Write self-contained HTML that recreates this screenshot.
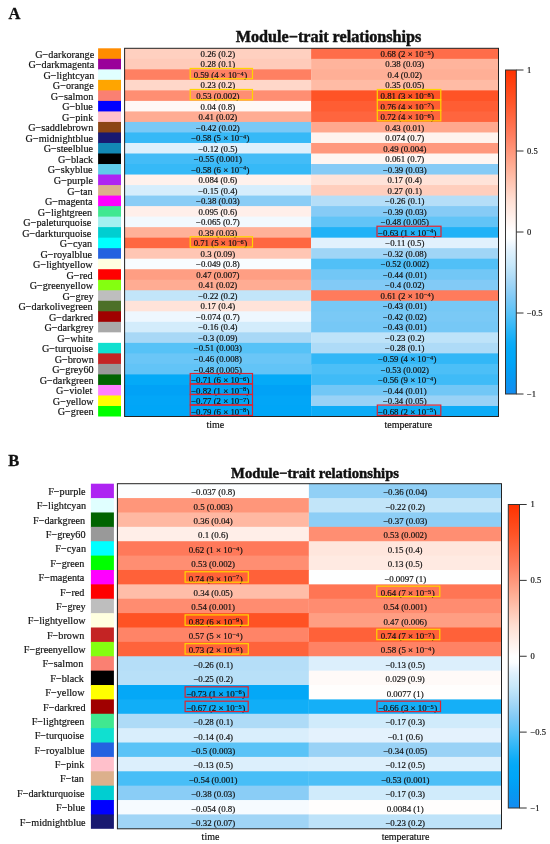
<!DOCTYPE html>
<html><head><meta charset="utf-8"><style>
html,body{margin:0;padding:0;background:#fff;}
svg{display:block;}
text{font-family:"Liberation Serif","Times New Roman",serif;fill:#111;stroke:#111;stroke-width:0.18px;}
</style></head><body>
<svg width="550" height="844" viewBox="0 0 550 844">
<defs><linearGradient id="gA" x1="0" y1="0" x2="0" y2="1"><stop offset="0.000" stop-color="#ff3200"/><stop offset="0.020" stop-color="#ff3908"/><stop offset="0.040" stop-color="#ff4010"/><stop offset="0.060" stop-color="#ff4718"/><stop offset="0.080" stop-color="#ff4e20"/><stop offset="0.100" stop-color="#ff5528"/><stop offset="0.120" stop-color="#ff5d33"/><stop offset="0.140" stop-color="#ff653e"/><stop offset="0.160" stop-color="#ff6d49"/><stop offset="0.180" stop-color="#ff7554"/><stop offset="0.200" stop-color="#ff7d5f"/><stop offset="0.220" stop-color="#ff876a"/><stop offset="0.240" stop-color="#ff9175"/><stop offset="0.260" stop-color="#ff9b80"/><stop offset="0.280" stop-color="#ffa58b"/><stop offset="0.300" stop-color="#ffaf96"/><stop offset="0.320" stop-color="#ffb8a2"/><stop offset="0.340" stop-color="#ffc2ae"/><stop offset="0.360" stop-color="#ffcbba"/><stop offset="0.380" stop-color="#ffd5c6"/><stop offset="0.400" stop-color="#ffded2"/><stop offset="0.420" stop-color="#ffe5db"/><stop offset="0.440" stop-color="#ffebe4"/><stop offset="0.460" stop-color="#fff2ed"/><stop offset="0.480" stop-color="#fff8f6"/><stop offset="0.500" stop-color="#ffffff"/><stop offset="0.520" stop-color="#fcfeff"/><stop offset="0.540" stop-color="#ecf6fe"/><stop offset="0.560" stop-color="#def0fc"/><stop offset="0.580" stop-color="#d3ecfb"/><stop offset="0.600" stop-color="#c8e8fa"/><stop offset="0.620" stop-color="#bbe2f8"/><stop offset="0.640" stop-color="#aedbf7"/><stop offset="0.660" stop-color="#a0d5f6"/><stop offset="0.680" stop-color="#91d0f6"/><stop offset="0.700" stop-color="#82caf6"/><stop offset="0.720" stop-color="#72c7f6"/><stop offset="0.740" stop-color="#62c4f7"/><stop offset="0.760" stop-color="#51c0f7"/><stop offset="0.780" stop-color="#3fbbf7"/><stop offset="0.800" stop-color="#2db6f7"/><stop offset="0.820" stop-color="#1db1f7"/><stop offset="0.840" stop-color="#0dacf7"/><stop offset="0.860" stop-color="#04a9f7"/><stop offset="0.880" stop-color="#02a7f7"/><stop offset="0.900" stop-color="#00a5f7"/><stop offset="0.920" stop-color="#02a0f5"/><stop offset="0.940" stop-color="#049bf3"/><stop offset="0.960" stop-color="#0896f2"/><stop offset="0.980" stop-color="#0e91f1"/><stop offset="1.000" stop-color="#148cf0"/></linearGradient><linearGradient id="gB" x1="0" y1="0" x2="0" y2="1"><stop offset="0.000" stop-color="#ff3200"/><stop offset="0.020" stop-color="#ff3908"/><stop offset="0.040" stop-color="#ff4010"/><stop offset="0.060" stop-color="#ff4718"/><stop offset="0.080" stop-color="#ff4e20"/><stop offset="0.100" stop-color="#ff5528"/><stop offset="0.120" stop-color="#ff5d33"/><stop offset="0.140" stop-color="#ff653e"/><stop offset="0.160" stop-color="#ff6d49"/><stop offset="0.180" stop-color="#ff7554"/><stop offset="0.200" stop-color="#ff7d5f"/><stop offset="0.220" stop-color="#ff876a"/><stop offset="0.240" stop-color="#ff9175"/><stop offset="0.260" stop-color="#ff9b80"/><stop offset="0.280" stop-color="#ffa58b"/><stop offset="0.300" stop-color="#ffaf96"/><stop offset="0.320" stop-color="#ffb8a2"/><stop offset="0.340" stop-color="#ffc2ae"/><stop offset="0.360" stop-color="#ffcbba"/><stop offset="0.380" stop-color="#ffd5c6"/><stop offset="0.400" stop-color="#ffded2"/><stop offset="0.420" stop-color="#ffe5db"/><stop offset="0.440" stop-color="#ffebe4"/><stop offset="0.460" stop-color="#fff2ed"/><stop offset="0.480" stop-color="#fff8f6"/><stop offset="0.500" stop-color="#ffffff"/><stop offset="0.520" stop-color="#fcfeff"/><stop offset="0.540" stop-color="#ecf6fe"/><stop offset="0.560" stop-color="#def0fc"/><stop offset="0.580" stop-color="#d3ecfb"/><stop offset="0.600" stop-color="#c8e8fa"/><stop offset="0.620" stop-color="#bbe2f8"/><stop offset="0.640" stop-color="#aedbf7"/><stop offset="0.660" stop-color="#a0d5f6"/><stop offset="0.680" stop-color="#91d0f6"/><stop offset="0.700" stop-color="#82caf6"/><stop offset="0.720" stop-color="#72c7f6"/><stop offset="0.740" stop-color="#62c4f7"/><stop offset="0.760" stop-color="#51c0f7"/><stop offset="0.780" stop-color="#3fbbf7"/><stop offset="0.800" stop-color="#2db6f7"/><stop offset="0.820" stop-color="#1db1f7"/><stop offset="0.840" stop-color="#0dacf7"/><stop offset="0.860" stop-color="#04a9f7"/><stop offset="0.880" stop-color="#02a7f7"/><stop offset="0.900" stop-color="#00a5f7"/><stop offset="0.920" stop-color="#02a0f5"/><stop offset="0.940" stop-color="#049bf3"/><stop offset="0.960" stop-color="#0896f2"/><stop offset="0.980" stop-color="#0e91f1"/><stop offset="1.000" stop-color="#148cf0"/></linearGradient></defs>
<rect width="550" height="844" fill="#fff"/>
<text x="8.4" y="18.5" font-size="16.5" font-weight="bold" style="stroke-width:0.3px">A</text>
<text x="235.7" y="41.9" font-size="16.2" font-weight="bold" style="stroke-width:0.45px">Module−trait relationships</text>
<rect x="98.1" y="48.30" width="22.90" height="11.52" fill="#ff8c00"/>
<rect x="124.6" y="48.30" width="186.50" height="11.52" fill="#ffd0c0"/>
<rect x="311.1" y="48.30" width="187.40" height="11.52" fill="#ff6d49"/>
<rect x="98.1" y="58.82" width="22.90" height="11.52" fill="#9a009a"/>
<rect x="124.6" y="58.82" width="186.50" height="11.52" fill="#ffcbba"/>
<rect x="311.1" y="58.82" width="187.40" height="11.52" fill="#ffb49c"/>
<rect x="98.1" y="69.34" width="22.90" height="11.52" fill="#e0ffff"/>
<rect x="124.6" y="69.34" width="186.50" height="11.52" fill="#ff8062"/>
<rect x="311.1" y="69.34" width="187.40" height="11.52" fill="#ffaf96"/>
<rect x="98.1" y="79.86" width="22.90" height="11.52" fill="#ffa500"/>
<rect x="124.6" y="79.86" width="186.50" height="11.52" fill="#ffd7c9"/>
<rect x="311.1" y="79.86" width="187.40" height="11.52" fill="#ffbba5"/>
<rect x="98.1" y="90.38" width="22.90" height="11.52" fill="#fa8072"/>
<rect x="124.6" y="90.38" width="186.50" height="11.52" fill="#ff8e72"/>
<rect x="311.1" y="90.38" width="187.40" height="11.52" fill="#ff5326"/>
<rect x="98.1" y="100.90" width="22.90" height="11.52" fill="#0000ff"/>
<rect x="124.6" y="100.90" width="186.50" height="11.52" fill="#fff8f6"/>
<rect x="311.1" y="100.90" width="187.40" height="11.52" fill="#ff5d33"/>
<rect x="98.1" y="111.42" width="22.90" height="11.52" fill="#ffc0cb"/>
<rect x="124.6" y="111.42" width="186.50" height="11.52" fill="#ffac93"/>
<rect x="311.1" y="111.42" width="187.40" height="11.52" fill="#ff653e"/>
<rect x="98.1" y="121.94" width="22.90" height="11.52" fill="#8b4513"/>
<rect x="124.6" y="121.94" width="186.50" height="11.52" fill="#7ac9f6"/>
<rect x="311.1" y="121.94" width="187.40" height="11.52" fill="#ffa88e"/>
<rect x="98.1" y="132.46" width="22.90" height="11.52" fill="#191970"/>
<rect x="124.6" y="132.46" width="186.50" height="11.52" fill="#36b9f7"/>
<rect x="311.1" y="132.46" width="187.40" height="11.52" fill="#fff3ee"/>
<rect x="98.1" y="142.98" width="22.90" height="11.52" fill="#1288b4"/>
<rect x="124.6" y="142.98" width="186.50" height="11.52" fill="#def0fc"/>
<rect x="311.1" y="142.98" width="187.40" height="11.52" fill="#ff987d"/>
<rect x="98.1" y="153.50" width="22.90" height="11.52" fill="#000000"/>
<rect x="124.6" y="153.50" width="186.50" height="11.52" fill="#43bcf7"/>
<rect x="311.1" y="153.50" width="187.40" height="11.52" fill="#fff5f1"/>
<rect x="98.1" y="164.02" width="22.90" height="11.52" fill="#60ccea"/>
<rect x="124.6" y="164.02" width="186.50" height="11.52" fill="#36b9f7"/>
<rect x="311.1" y="164.02" width="187.40" height="11.52" fill="#86cbf6"/>
<rect x="98.1" y="174.54" width="22.90" height="11.52" fill="#ae24f2"/>
<rect x="124.6" y="174.54" width="186.50" height="11.52" fill="#fff1ec"/>
<rect x="311.1" y="174.54" width="187.40" height="11.52" fill="#ffe3d9"/>
<rect x="98.1" y="185.06" width="22.90" height="11.52" fill="#dcb08c"/>
<rect x="124.6" y="185.06" width="186.50" height="11.52" fill="#d6edfc"/>
<rect x="311.1" y="185.06" width="187.40" height="11.52" fill="#ffcebd"/>
<rect x="98.1" y="195.58" width="22.90" height="11.52" fill="#ff00ff"/>
<rect x="124.6" y="195.58" width="186.50" height="11.52" fill="#8acdf6"/>
<rect x="311.1" y="195.58" width="187.40" height="11.52" fill="#b5def8"/>
<rect x="98.1" y="206.10" width="22.90" height="11.52" fill="#40e890"/>
<rect x="124.6" y="206.10" width="186.50" height="11.52" fill="#ffefea"/>
<rect x="311.1" y="206.10" width="187.40" height="11.52" fill="#86cbf6"/>
<rect x="98.1" y="216.62" width="22.90" height="11.52" fill="#a4f0f0"/>
<rect x="124.6" y="216.62" width="186.50" height="11.52" fill="#f2f9fe"/>
<rect x="311.1" y="216.62" width="187.40" height="11.52" fill="#62c4f7"/>
<rect x="98.1" y="227.14" width="22.90" height="11.52" fill="#00ced1"/>
<rect x="124.6" y="227.14" width="186.50" height="11.52" fill="#ffb199"/>
<rect x="311.1" y="227.14" width="187.40" height="11.52" fill="#21b2f7"/>
<rect x="98.1" y="237.66" width="22.90" height="11.52" fill="#00ffff"/>
<rect x="124.6" y="237.66" width="186.50" height="11.52" fill="#ff6741"/>
<rect x="311.1" y="237.66" width="187.40" height="11.52" fill="#e1f1fd"/>
<rect x="98.1" y="248.18" width="22.90" height="11.52" fill="#2462e0"/>
<rect x="124.6" y="248.18" width="186.50" height="11.52" fill="#ffc6b4"/>
<rect x="311.1" y="248.18" width="187.40" height="11.52" fill="#a0d5f6"/>
<rect x="98.1" y="258.70" width="22.90" height="11.52" fill="#ffffe0"/>
<rect x="124.6" y="258.70" width="186.50" height="11.52" fill="#f8fcff"/>
<rect x="311.1" y="258.70" width="187.40" height="11.52" fill="#51c0f7"/>
<rect x="98.1" y="269.22" width="22.90" height="11.52" fill="#ff0000"/>
<rect x="124.6" y="269.22" width="186.50" height="11.52" fill="#ff9e83"/>
<rect x="311.1" y="269.22" width="187.40" height="11.52" fill="#72c7f6"/>
<rect x="98.1" y="279.74" width="22.90" height="11.52" fill="#84ff10"/>
<rect x="124.6" y="279.74" width="186.50" height="11.52" fill="#ffac93"/>
<rect x="311.1" y="279.74" width="187.40" height="11.52" fill="#82caf6"/>
<rect x="98.1" y="290.26" width="22.90" height="11.52" fill="#bebebe"/>
<rect x="124.6" y="290.26" width="186.50" height="11.52" fill="#c2e5f9"/>
<rect x="311.1" y="290.26" width="187.40" height="11.52" fill="#ff7b5c"/>
<rect x="98.1" y="300.78" width="22.90" height="11.52" fill="#4c7028"/>
<rect x="124.6" y="300.78" width="186.50" height="11.52" fill="#ffe3d9"/>
<rect x="311.1" y="300.78" width="187.40" height="11.52" fill="#76c8f6"/>
<rect x="98.1" y="311.30" width="22.90" height="11.52" fill="#a00000"/>
<rect x="124.6" y="311.30" width="186.50" height="11.52" fill="#eef7fe"/>
<rect x="311.1" y="311.30" width="187.40" height="11.52" fill="#7ac9f6"/>
<rect x="98.1" y="321.82" width="22.90" height="11.52" fill="#a9a9a9"/>
<rect x="124.6" y="321.82" width="186.50" height="11.52" fill="#d3ecfb"/>
<rect x="311.1" y="321.82" width="187.40" height="11.52" fill="#76c8f6"/>
<rect x="98.1" y="332.34" width="22.90" height="11.52" fill="#ffffff"/>
<rect x="124.6" y="332.34" width="186.50" height="11.52" fill="#a8d8f6"/>
<rect x="311.1" y="332.34" width="187.40" height="11.52" fill="#bee3f9"/>
<rect x="98.1" y="342.86" width="22.90" height="11.52" fill="#10e0d0"/>
<rect x="124.6" y="342.86" width="186.50" height="11.52" fill="#56c2f7"/>
<rect x="311.1" y="342.86" width="187.40" height="11.52" fill="#aedbf7"/>
<rect x="98.1" y="353.38" width="22.90" height="11.52" fill="#c42424"/>
<rect x="124.6" y="353.38" width="186.50" height="11.52" fill="#6ac6f7"/>
<rect x="311.1" y="353.38" width="187.40" height="11.52" fill="#32b7f7"/>
<rect x="98.1" y="363.90" width="22.90" height="11.52" fill="#999999"/>
<rect x="124.6" y="363.90" width="186.50" height="11.52" fill="#62c4f7"/>
<rect x="311.1" y="363.90" width="187.40" height="11.52" fill="#4cbff7"/>
<rect x="98.1" y="374.42" width="22.90" height="11.52" fill="#006400"/>
<rect x="124.6" y="374.42" width="186.50" height="11.52" fill="#04aaf7"/>
<rect x="311.1" y="374.42" width="187.40" height="11.52" fill="#3fbbf7"/>
<rect x="98.1" y="384.94" width="22.90" height="11.52" fill="#ff80ff"/>
<rect x="124.6" y="384.94" width="186.50" height="11.52" fill="#01a2f6"/>
<rect x="311.1" y="384.94" width="187.40" height="11.52" fill="#72c7f6"/>
<rect x="98.1" y="395.46" width="22.90" height="11.52" fill="#ffff00"/>
<rect x="124.6" y="395.46" width="186.50" height="11.52" fill="#02a6f7"/>
<rect x="311.1" y="395.46" width="187.40" height="11.52" fill="#99d2f6"/>
<rect x="98.1" y="405.98" width="22.90" height="10.52" fill="#00ff00"/>
<rect x="124.6" y="405.98" width="186.50" height="10.52" fill="#00a6f7"/>
<rect x="311.1" y="405.98" width="187.40" height="10.52" fill="#0dacf7"/>
<text x="94.20" y="57.76" font-size="10.2" text-anchor="end">G−darkorange</text>
<text x="217.85" y="56.91" font-size="8.8" text-anchor="middle">0.26 (0.2)</text>
<text x="407.30" y="56.91" font-size="8.8" text-anchor="middle">0.68 (2 × 10<tspan dx="0.3" dy="-2.29" font-size="6.34">−5</tspan><tspan dx="0.4" dy="2.29">)</tspan></text>
<text x="94.20" y="68.28" font-size="10.2" text-anchor="end">G−darkmagenta</text>
<text x="217.85" y="67.43" font-size="8.8" text-anchor="middle">0.28 (0.1)</text>
<text x="404.80" y="67.43" font-size="8.8" text-anchor="middle">0.38 (0.03)</text>
<text x="94.40" y="78.80" font-size="10.2" text-anchor="end">G−lightcyan</text>
<text x="220.35" y="77.95" font-size="8.8" text-anchor="middle">0.59 (4 × 10<tspan dx="0.3" dy="-2.29" font-size="6.34">−4</tspan><tspan dx="0.4" dy="2.29">)</tspan></text>
<text x="404.80" y="77.95" font-size="8.8" text-anchor="middle">0.4 (0.02)</text>
<text x="93.70" y="89.32" font-size="10.2" text-anchor="end">G−orange</text>
<text x="217.85" y="88.47" font-size="8.8" text-anchor="middle">0.23 (0.2)</text>
<text x="404.80" y="88.47" font-size="8.8" text-anchor="middle">0.35 (0.05)</text>
<text x="93.40" y="99.84" font-size="10.2" text-anchor="end">G−salmon</text>
<text x="217.85" y="98.99" font-size="8.8" text-anchor="middle">0.53 (0.002)</text>
<text x="407.30" y="98.99" font-size="8.8" text-anchor="middle">0.81 (3 × 10<tspan dx="0.3" dy="-2.29" font-size="6.34">−8</tspan><tspan dx="0.4" dy="2.29">)</tspan></text>
<text x="92.90" y="110.36" font-size="10.2" text-anchor="end">G−blue</text>
<text x="217.85" y="109.51" font-size="8.8" text-anchor="middle">0.04 (0.8)</text>
<text x="407.30" y="109.51" font-size="8.8" text-anchor="middle">0.76 (4 × 10<tspan dx="0.3" dy="-2.29" font-size="6.34">−7</tspan><tspan dx="0.4" dy="2.29">)</tspan></text>
<text x="93.30" y="120.88" font-size="10.2" text-anchor="end">G−pink</text>
<text x="217.85" y="120.03" font-size="8.8" text-anchor="middle">0.41 (0.02)</text>
<text x="407.30" y="120.03" font-size="8.8" text-anchor="middle">0.72 (4 × 10<tspan dx="0.3" dy="-2.29" font-size="6.34">−6</tspan><tspan dx="0.4" dy="2.29">)</tspan></text>
<text x="93.30" y="131.40" font-size="10.2" text-anchor="end">G−saddlebrown</text>
<text x="217.85" y="130.55" font-size="8.8" text-anchor="middle">−0.42 (0.02)</text>
<text x="404.80" y="130.55" font-size="8.8" text-anchor="middle">0.43 (0.01)</text>
<text x="93.00" y="141.92" font-size="10.2" text-anchor="end">G−midnightblue</text>
<text x="220.35" y="141.07" font-size="8.8" text-anchor="middle">−0.58 (5 × 10<tspan dx="0.3" dy="-2.29" font-size="6.34">−4</tspan><tspan dx="0.4" dy="2.29">)</tspan></text>
<text x="404.80" y="141.07" font-size="8.8" text-anchor="middle">0.074 (0.7)</text>
<text x="93.00" y="152.44" font-size="10.2" text-anchor="end">G−steelblue</text>
<text x="217.85" y="151.59" font-size="8.8" text-anchor="middle">−0.12 (0.5)</text>
<text x="404.80" y="151.59" font-size="8.8" text-anchor="middle">0.49 (0.004)</text>
<text x="93.10" y="162.96" font-size="10.2" text-anchor="end">G−black</text>
<text x="217.85" y="162.11" font-size="8.8" text-anchor="middle">−0.55 (0.001)</text>
<text x="404.80" y="162.11" font-size="8.8" text-anchor="middle">0.061 (0.7)</text>
<text x="92.50" y="173.48" font-size="10.2" text-anchor="end">G−skyblue</text>
<text x="220.35" y="172.63" font-size="8.8" text-anchor="middle">−0.58 (6 × 10<tspan dx="0.3" dy="-2.29" font-size="6.34">−4</tspan><tspan dx="0.4" dy="2.29">)</tspan></text>
<text x="404.80" y="172.63" font-size="8.8" text-anchor="middle">−0.39 (0.03)</text>
<text x="93.00" y="184.00" font-size="10.2" text-anchor="end">G−purple</text>
<text x="217.85" y="183.15" font-size="8.8" text-anchor="middle">0.084 (0.6)</text>
<text x="404.80" y="183.15" font-size="8.8" text-anchor="middle">0.17 (0.4)</text>
<text x="92.70" y="194.52" font-size="10.2" text-anchor="end">G−tan</text>
<text x="217.85" y="193.67" font-size="8.8" text-anchor="middle">−0.15 (0.4)</text>
<text x="404.80" y="193.67" font-size="8.8" text-anchor="middle">0.27 (0.1)</text>
<text x="92.50" y="205.04" font-size="10.2" text-anchor="end">G−magenta</text>
<text x="217.85" y="204.19" font-size="8.8" text-anchor="middle">−0.38 (0.03)</text>
<text x="404.80" y="204.19" font-size="8.8" text-anchor="middle">−0.26 (0.1)</text>
<text x="92.20" y="215.56" font-size="10.2" text-anchor="end">G−lightgreen</text>
<text x="217.85" y="214.71" font-size="8.8" text-anchor="middle">0.095 (0.6)</text>
<text x="404.80" y="214.71" font-size="8.8" text-anchor="middle">−0.39 (0.03)</text>
<text x="91.30" y="226.08" font-size="10.2" text-anchor="end">G−paleturquoise</text>
<text x="217.85" y="225.23" font-size="8.8" text-anchor="middle">−0.065 (0.7)</text>
<text x="404.80" y="225.23" font-size="8.8" text-anchor="middle">−0.48 (0.005)</text>
<text x="91.30" y="236.60" font-size="10.2" text-anchor="end">G−darkturquoise</text>
<text x="217.85" y="235.75" font-size="8.8" text-anchor="middle">0.39 (0.03)</text>
<text x="407.30" y="235.75" font-size="8.8" text-anchor="middle">−0.63 (1 × 10<tspan dx="0.3" dy="-2.29" font-size="6.34">−4</tspan><tspan dx="0.4" dy="2.29">)</tspan></text>
<text x="92.20" y="247.12" font-size="10.2" text-anchor="end">G−cyan</text>
<text x="220.35" y="246.27" font-size="8.8" text-anchor="middle">0.71 (5 × 10<tspan dx="0.3" dy="-2.29" font-size="6.34">−6</tspan><tspan dx="0.4" dy="2.29">)</tspan></text>
<text x="404.80" y="246.27" font-size="8.8" text-anchor="middle">−0.11 (0.5)</text>
<text x="92.00" y="257.64" font-size="10.2" text-anchor="end">G−royalblue</text>
<text x="217.85" y="256.79" font-size="8.8" text-anchor="middle">0.3 (0.09)</text>
<text x="404.80" y="256.79" font-size="8.8" text-anchor="middle">−0.32 (0.08)</text>
<text x="92.60" y="268.16" font-size="10.2" text-anchor="end">G−lightyellow</text>
<text x="217.85" y="267.31" font-size="8.8" text-anchor="middle">−0.049 (0.8)</text>
<text x="404.80" y="267.31" font-size="8.8" text-anchor="middle">−0.52 (0.002)</text>
<text x="92.60" y="278.68" font-size="10.2" text-anchor="end">G−red</text>
<text x="217.85" y="277.83" font-size="8.8" text-anchor="middle">0.47 (0.007)</text>
<text x="404.80" y="277.83" font-size="8.8" text-anchor="middle">−0.44 (0.01)</text>
<text x="93.10" y="289.20" font-size="10.2" text-anchor="end">G−greenyellow</text>
<text x="217.85" y="288.35" font-size="8.8" text-anchor="middle">0.41 (0.02)</text>
<text x="404.80" y="288.35" font-size="8.8" text-anchor="middle">−0.4 (0.02)</text>
<text x="93.70" y="299.72" font-size="10.2" text-anchor="end">G−grey</text>
<text x="217.85" y="298.87" font-size="8.8" text-anchor="middle">−0.22 (0.2)</text>
<text x="407.30" y="298.87" font-size="8.8" text-anchor="middle">0.61 (2 × 10<tspan dx="0.3" dy="-2.29" font-size="6.34">−4</tspan><tspan dx="0.4" dy="2.29">)</tspan></text>
<text x="92.70" y="310.24" font-size="10.2" text-anchor="end">G−darkolivegreen</text>
<text x="217.85" y="309.39" font-size="8.8" text-anchor="middle">0.17 (0.4)</text>
<text x="404.80" y="309.39" font-size="8.8" text-anchor="middle">−0.43 (0.01)</text>
<text x="93.10" y="320.76" font-size="10.2" text-anchor="end">G−darkred</text>
<text x="217.85" y="319.91" font-size="8.8" text-anchor="middle">−0.074 (0.7)</text>
<text x="404.80" y="319.91" font-size="8.8" text-anchor="middle">−0.42 (0.02)</text>
<text x="93.70" y="331.28" font-size="10.2" text-anchor="end">G−darkgrey</text>
<text x="217.85" y="330.43" font-size="8.8" text-anchor="middle">−0.16 (0.4)</text>
<text x="404.80" y="330.43" font-size="8.8" text-anchor="middle">−0.43 (0.01)</text>
<text x="93.00" y="341.80" font-size="10.2" text-anchor="end">G−white</text>
<text x="217.85" y="340.95" font-size="8.8" text-anchor="middle">−0.3 (0.09)</text>
<text x="404.80" y="340.95" font-size="8.8" text-anchor="middle">−0.23 (0.2)</text>
<text x="93.00" y="352.32" font-size="10.2" text-anchor="end">G−turquoise</text>
<text x="217.85" y="351.47" font-size="8.8" text-anchor="middle">−0.51 (0.003)</text>
<text x="404.80" y="351.47" font-size="8.8" text-anchor="middle">−0.28 (0.1)</text>
<text x="93.80" y="362.84" font-size="10.2" text-anchor="end">G−brown</text>
<text x="217.85" y="361.99" font-size="8.8" text-anchor="middle">−0.46 (0.008)</text>
<text x="407.30" y="361.99" font-size="8.8" text-anchor="middle">−0.59 (4 × 10<tspan dx="0.3" dy="-2.29" font-size="6.34">−4</tspan><tspan dx="0.4" dy="2.29">)</tspan></text>
<text x="93.60" y="373.36" font-size="10.2" text-anchor="end">G−grey60</text>
<text x="217.85" y="372.51" font-size="8.8" text-anchor="middle">−0.48 (0.005)</text>
<text x="404.80" y="372.51" font-size="8.8" text-anchor="middle">−0.53 (0.002)</text>
<text x="93.50" y="383.88" font-size="10.2" text-anchor="end">G−darkgreen</text>
<text x="220.35" y="383.03" font-size="8.8" text-anchor="middle">−0.71 (6 × 10<tspan dx="0.3" dy="-2.29" font-size="6.34">−6</tspan><tspan dx="0.4" dy="2.29">)</tspan></text>
<text x="407.30" y="383.03" font-size="8.8" text-anchor="middle">−0.56 (9 × 10<tspan dx="0.3" dy="-2.29" font-size="6.34">−4</tspan><tspan dx="0.4" dy="2.29">)</tspan></text>
<text x="92.40" y="394.40" font-size="10.2" text-anchor="end">G−violet</text>
<text x="220.35" y="393.55" font-size="8.8" text-anchor="middle">−0.82 (1 × 10<tspan dx="0.3" dy="-2.29" font-size="6.34">−8</tspan><tspan dx="0.4" dy="2.29">)</tspan></text>
<text x="404.80" y="393.55" font-size="8.8" text-anchor="middle">−0.44 (0.01)</text>
<text x="93.70" y="404.92" font-size="10.2" text-anchor="end">G−yellow</text>
<text x="220.35" y="404.07" font-size="8.8" text-anchor="middle">−0.77 (2 × 10<tspan dx="0.3" dy="-2.29" font-size="6.34">−7</tspan><tspan dx="0.4" dy="2.29">)</tspan></text>
<text x="404.80" y="404.07" font-size="8.8" text-anchor="middle">−0.34 (0.05)</text>
<text x="93.50" y="415.44" font-size="10.2" text-anchor="end">G−green</text>
<text x="220.35" y="414.59" font-size="8.8" text-anchor="middle">−0.79 (6 × 10<tspan dx="0.3" dy="-2.29" font-size="6.34">−8</tspan><tspan dx="0.4" dy="2.29">)</tspan></text>
<text x="407.30" y="414.59" font-size="8.8" text-anchor="middle">−0.68 (2 × 10<tspan dx="0.3" dy="-2.29" font-size="6.34">−5</tspan><tspan dx="0.4" dy="2.29">)</tspan></text>
<rect x="190.2" y="68.44" width="62.30" height="10.30" fill="none" stroke="#FFD400" stroke-width="1.2"/>
<rect x="190.2" y="89.48" width="62.30" height="10.30" fill="none" stroke="#FFD400" stroke-width="1.2"/>
<rect x="190.2" y="236.76" width="62.30" height="10.30" fill="none" stroke="#FFD400" stroke-width="1.2"/>
<rect x="377.3" y="89.48" width="63.50" height="10.30" fill="none" stroke="#FFD400" stroke-width="1.2"/>
<rect x="377.3" y="100.00" width="63.50" height="10.30" fill="none" stroke="#FFD400" stroke-width="1.2"/>
<rect x="377.3" y="110.52" width="63.50" height="10.30" fill="none" stroke="#FFD400" stroke-width="1.2"/>
<rect x="377" y="226.24" width="64.00" height="10.30" fill="none" stroke="#E02430" stroke-width="1.2"/>
<rect x="377.3" y="405.08" width="63.50" height="10.30" fill="none" stroke="#E02430" stroke-width="1.2"/>
<rect x="190.2" y="373.52" width="62.30" height="10.30" fill="none" stroke="#E02430" stroke-width="1.2"/>
<rect x="190.2" y="384.04" width="62.30" height="10.30" fill="none" stroke="#E02430" stroke-width="1.2"/>
<rect x="190.2" y="394.56" width="62.30" height="10.30" fill="none" stroke="#E02430" stroke-width="1.2"/>
<rect x="190.2" y="405.08" width="62.30" height="10.30" fill="none" stroke="#E02430" stroke-width="1.2"/>
<rect x="124.6" y="48.3" width="373.9" height="368.2" fill="none" stroke="#222" stroke-width="1"/>
<text x="215.4" y="427.7" font-size="10.0" text-anchor="middle">time</text>
<text x="408.3" y="427.7" font-size="10.0" text-anchor="middle">temperature</text>
<rect x="505.5" y="70" width="10.799999999999955" height="324" fill="url(#gA)" stroke="#333" stroke-width="1"/>
<line x1="516.3" y1="70.00" x2="523.5" y2="70.00" stroke="#333" stroke-width="1"/>
<text x="527" y="72.81" font-size="8.5">1</text>
<line x1="516.3" y1="151.00" x2="523.5" y2="151.00" stroke="#333" stroke-width="1"/>
<text x="527" y="153.81" font-size="8.5">0.5</text>
<line x1="516.3" y1="232.00" x2="523.5" y2="232.00" stroke="#333" stroke-width="1"/>
<text x="527" y="234.81" font-size="8.5">0</text>
<line x1="516.3" y1="313.00" x2="523.5" y2="313.00" stroke="#333" stroke-width="1"/>
<text x="527" y="315.81" font-size="8.5">−0.5</text>
<line x1="516.3" y1="394.00" x2="523.5" y2="394.00" stroke="#333" stroke-width="1"/>
<text x="527" y="396.81" font-size="8.5">−1</text>
<text x="8.2" y="466.3" font-size="16.5" font-weight="bold" style="stroke-width:0.3px">B</text>
<text x="231.1" y="478.2" font-size="14.65" font-weight="bold" style="stroke-width:0.45px">Module−trait relationships</text>
<rect x="90.9" y="483.70" width="23.00" height="15.38" fill="#ae24f2"/>
<rect x="117.4" y="483.70" width="191.50" height="15.38" fill="#fcfeff"/>
<rect x="308.9" y="483.70" width="192.60" height="15.38" fill="#91d0f6"/>
<rect x="90.9" y="498.08" width="23.00" height="15.38" fill="#e0ffff"/>
<rect x="117.4" y="498.08" width="191.50" height="15.38" fill="#ff967a"/>
<rect x="308.9" y="498.08" width="192.60" height="15.38" fill="#c2e5f9"/>
<rect x="90.9" y="512.46" width="23.00" height="15.38" fill="#006400"/>
<rect x="117.4" y="512.46" width="191.50" height="15.38" fill="#ffb8a2"/>
<rect x="308.9" y="512.46" width="192.60" height="15.38" fill="#8dcef6"/>
<rect x="90.9" y="526.84" width="23.00" height="15.38" fill="#999999"/>
<rect x="117.4" y="526.84" width="191.50" height="15.38" fill="#ffeee8"/>
<rect x="308.9" y="526.84" width="192.60" height="15.38" fill="#ff8e72"/>
<rect x="90.9" y="541.22" width="23.00" height="15.38" fill="#00ffff"/>
<rect x="117.4" y="541.22" width="191.50" height="15.38" fill="#ff795a"/>
<rect x="308.9" y="541.22" width="192.60" height="15.38" fill="#ffe6dd"/>
<rect x="90.9" y="555.60" width="23.00" height="15.38" fill="#00ff00"/>
<rect x="117.4" y="555.60" width="191.50" height="15.38" fill="#ff8e72"/>
<rect x="308.9" y="555.60" width="192.60" height="15.38" fill="#ffeae2"/>
<rect x="90.9" y="569.98" width="23.00" height="15.38" fill="#ff00ff"/>
<rect x="117.4" y="569.98" width="191.50" height="15.38" fill="#ff6139"/>
<rect x="308.9" y="569.98" width="192.60" height="15.38" fill="#feffff"/>
<rect x="90.9" y="584.35" width="23.00" height="15.38" fill="#ff0000"/>
<rect x="117.4" y="584.35" width="191.50" height="15.38" fill="#ffbda8"/>
<rect x="308.9" y="584.35" width="192.60" height="15.38" fill="#ff7554"/>
<rect x="90.9" y="598.73" width="23.00" height="15.38" fill="#bebebe"/>
<rect x="117.4" y="598.73" width="191.50" height="15.38" fill="#ff8c70"/>
<rect x="308.9" y="598.73" width="192.60" height="15.38" fill="#ff8c70"/>
<rect x="90.9" y="613.11" width="23.00" height="15.38" fill="#ffffe0"/>
<rect x="117.4" y="613.11" width="191.50" height="15.38" fill="#ff5224"/>
<rect x="308.9" y="613.11" width="192.60" height="15.38" fill="#ff9e83"/>
<rect x="90.9" y="627.49" width="23.00" height="15.38" fill="#c42424"/>
<rect x="117.4" y="627.49" width="191.50" height="15.38" fill="#ff8467"/>
<rect x="308.9" y="627.49" width="192.60" height="15.38" fill="#ff6139"/>
<rect x="90.9" y="641.87" width="23.00" height="15.38" fill="#84ff10"/>
<rect x="117.4" y="641.87" width="191.50" height="15.38" fill="#ff633b"/>
<rect x="308.9" y="641.87" width="192.60" height="15.38" fill="#ff8264"/>
<rect x="90.9" y="656.25" width="23.00" height="15.38" fill="#fa8072"/>
<rect x="117.4" y="656.25" width="191.50" height="15.38" fill="#b5def8"/>
<rect x="308.9" y="656.25" width="192.60" height="15.38" fill="#dceffc"/>
<rect x="90.9" y="670.63" width="23.00" height="15.38" fill="#000000"/>
<rect x="117.4" y="670.63" width="191.50" height="15.38" fill="#b8e0f8"/>
<rect x="308.9" y="670.63" width="192.60" height="15.38" fill="#fffaf8"/>
<rect x="90.9" y="685.01" width="23.00" height="15.38" fill="#ffff00"/>
<rect x="117.4" y="685.01" width="191.50" height="15.38" fill="#04a8f7"/>
<rect x="308.9" y="685.01" width="192.60" height="15.38" fill="#fffefd"/>
<rect x="90.9" y="699.39" width="23.00" height="15.38" fill="#a00000"/>
<rect x="117.4" y="699.39" width="191.50" height="15.38" fill="#11aef7"/>
<rect x="308.9" y="699.39" width="192.60" height="15.38" fill="#15aff7"/>
<rect x="90.9" y="713.77" width="23.00" height="15.38" fill="#40e890"/>
<rect x="117.4" y="713.77" width="191.50" height="15.38" fill="#aedbf7"/>
<rect x="308.9" y="713.77" width="192.60" height="15.38" fill="#d0ebfb"/>
<rect x="90.9" y="728.15" width="23.00" height="15.38" fill="#10e0d0"/>
<rect x="117.4" y="728.15" width="191.50" height="15.38" fill="#d9eefc"/>
<rect x="308.9" y="728.15" width="192.60" height="15.38" fill="#e4f2fd"/>
<rect x="90.9" y="742.52" width="23.00" height="15.38" fill="#2462e0"/>
<rect x="117.4" y="742.52" width="191.50" height="15.38" fill="#5ac3f7"/>
<rect x="308.9" y="742.52" width="192.60" height="15.38" fill="#99d2f6"/>
<rect x="90.9" y="756.90" width="23.00" height="15.38" fill="#ffc0cb"/>
<rect x="117.4" y="756.90" width="191.50" height="15.38" fill="#dceffc"/>
<rect x="308.9" y="756.90" width="192.60" height="15.38" fill="#def0fc"/>
<rect x="90.9" y="771.28" width="23.00" height="15.38" fill="#dcb08c"/>
<rect x="117.4" y="771.28" width="191.50" height="15.38" fill="#48bef7"/>
<rect x="308.9" y="771.28" width="192.60" height="15.38" fill="#4cbff7"/>
<rect x="90.9" y="785.66" width="23.00" height="15.38" fill="#00ced1"/>
<rect x="117.4" y="785.66" width="191.50" height="15.38" fill="#8acdf6"/>
<rect x="308.9" y="785.66" width="192.60" height="15.38" fill="#d0ebfb"/>
<rect x="90.9" y="800.04" width="23.00" height="15.38" fill="#0000ff"/>
<rect x="117.4" y="800.04" width="191.50" height="15.38" fill="#f6fbff"/>
<rect x="308.9" y="800.04" width="192.60" height="15.38" fill="#fffefd"/>
<rect x="90.9" y="814.42" width="23.00" height="14.38" fill="#191970"/>
<rect x="117.4" y="814.42" width="191.50" height="14.38" fill="#a0d5f6"/>
<rect x="308.9" y="814.42" width="192.60" height="14.38" fill="#bee3f9"/>
<text x="85.60" y="494.89" font-size="10.2" text-anchor="end">F−purple</text>
<text x="213.15" y="495.29" font-size="8.9" text-anchor="middle">−0.037 (0.8)</text>
<text x="405.20" y="495.29" font-size="8.9" text-anchor="middle">−0.36 (0.04)</text>
<text x="86.00" y="509.27" font-size="10.2" text-anchor="end">F−lightcyan</text>
<text x="213.15" y="509.67" font-size="8.9" text-anchor="middle">0.5 (0.003)</text>
<text x="405.20" y="509.67" font-size="8.9" text-anchor="middle">−0.22 (0.2)</text>
<text x="85.20" y="523.65" font-size="10.2" text-anchor="end">F−darkgreen</text>
<text x="213.15" y="524.05" font-size="8.9" text-anchor="middle">0.36 (0.04)</text>
<text x="405.20" y="524.05" font-size="8.9" text-anchor="middle">−0.37 (0.03)</text>
<text x="85.50" y="538.03" font-size="10.2" text-anchor="end">F−grey60</text>
<text x="213.15" y="538.43" font-size="8.9" text-anchor="middle">0.1 (0.6)</text>
<text x="405.20" y="538.43" font-size="8.9" text-anchor="middle">0.53 (0.002)</text>
<text x="86.00" y="552.41" font-size="10.2" text-anchor="end">F−cyan</text>
<text x="215.65" y="552.81" font-size="8.9" text-anchor="middle">0.62 (1 × 10<tspan dx="0.3" dy="-2.31" font-size="6.41">−4</tspan><tspan dx="0.4" dy="2.31">)</tspan></text>
<text x="405.20" y="552.81" font-size="8.9" text-anchor="middle">0.15 (0.4)</text>
<text x="84.40" y="566.79" font-size="10.2" text-anchor="end">F−green</text>
<text x="213.15" y="567.19" font-size="8.9" text-anchor="middle">0.53 (0.002)</text>
<text x="405.20" y="567.19" font-size="8.9" text-anchor="middle">0.13 (0.5)</text>
<text x="84.40" y="581.16" font-size="10.2" text-anchor="end">F−magenta</text>
<text x="215.65" y="581.56" font-size="8.9" text-anchor="middle">0.74 (9 × 10<tspan dx="0.3" dy="-2.31" font-size="6.41">−7</tspan><tspan dx="0.4" dy="2.31">)</tspan></text>
<text x="405.20" y="581.56" font-size="8.9" text-anchor="middle">−0.0097 (1)</text>
<text x="84.40" y="595.54" font-size="10.2" text-anchor="end">F−red</text>
<text x="213.15" y="595.94" font-size="8.9" text-anchor="middle">0.34 (0.05)</text>
<text x="407.70" y="595.94" font-size="8.9" text-anchor="middle">0.64 (7 × 10<tspan dx="0.3" dy="-2.31" font-size="6.41">−5</tspan><tspan dx="0.4" dy="2.31">)</tspan></text>
<text x="85.60" y="609.92" font-size="10.2" text-anchor="end">F−grey</text>
<text x="213.15" y="610.32" font-size="8.9" text-anchor="middle">0.54 (0.001)</text>
<text x="405.20" y="610.32" font-size="8.9" text-anchor="middle">0.54 (0.001)</text>
<text x="85.60" y="624.30" font-size="10.2" text-anchor="end">F−lightyellow</text>
<text x="215.65" y="624.70" font-size="8.9" text-anchor="middle">0.82 (6 × 10<tspan dx="0.3" dy="-2.31" font-size="6.41">−9</tspan><tspan dx="0.4" dy="2.31">)</tspan></text>
<text x="405.20" y="624.70" font-size="8.9" text-anchor="middle">0.47 (0.006)</text>
<text x="84.40" y="638.68" font-size="10.2" text-anchor="end">F−brown</text>
<text x="215.65" y="639.08" font-size="8.9" text-anchor="middle">0.57 (5 × 10<tspan dx="0.3" dy="-2.31" font-size="6.41">−4</tspan><tspan dx="0.4" dy="2.31">)</tspan></text>
<text x="407.70" y="639.08" font-size="8.9" text-anchor="middle">0.74 (7 × 10<tspan dx="0.3" dy="-2.31" font-size="6.41">−7</tspan><tspan dx="0.4" dy="2.31">)</tspan></text>
<text x="85.60" y="653.06" font-size="10.2" text-anchor="end">F−greenyellow</text>
<text x="215.65" y="653.46" font-size="8.9" text-anchor="middle">0.73 (2 × 10<tspan dx="0.3" dy="-2.31" font-size="6.41">−6</tspan><tspan dx="0.4" dy="2.31">)</tspan></text>
<text x="407.70" y="653.46" font-size="8.9" text-anchor="middle">0.58 (5 × 10<tspan dx="0.3" dy="-2.31" font-size="6.41">−4</tspan><tspan dx="0.4" dy="2.31">)</tspan></text>
<text x="83.30" y="667.44" font-size="10.2" text-anchor="end">F−salmon</text>
<text x="213.15" y="667.84" font-size="8.9" text-anchor="middle">−0.26 (0.1)</text>
<text x="405.20" y="667.84" font-size="8.9" text-anchor="middle">−0.13 (0.5)</text>
<text x="83.80" y="681.82" font-size="10.2" text-anchor="end">F−black</text>
<text x="213.15" y="682.22" font-size="8.9" text-anchor="middle">−0.25 (0.2)</text>
<text x="405.20" y="682.22" font-size="8.9" text-anchor="middle">0.029 (0.9)</text>
<text x="84.50" y="696.20" font-size="10.2" text-anchor="end">F−yellow</text>
<text x="215.65" y="696.60" font-size="8.9" text-anchor="middle">−0.73 (1 × 10<tspan dx="0.3" dy="-2.31" font-size="6.41">−6</tspan><tspan dx="0.4" dy="2.31">)</tspan></text>
<text x="405.20" y="696.60" font-size="8.9" text-anchor="middle">0.0077 (1)</text>
<text x="85.50" y="710.58" font-size="10.2" text-anchor="end">F−darkred</text>
<text x="215.65" y="710.98" font-size="8.9" text-anchor="middle">−0.67 (2 × 10<tspan dx="0.3" dy="-2.31" font-size="6.41">−5</tspan><tspan dx="0.4" dy="2.31">)</tspan></text>
<text x="407.70" y="710.98" font-size="8.9" text-anchor="middle">−0.66 (3 × 10<tspan dx="0.3" dy="-2.31" font-size="6.41">−5</tspan><tspan dx="0.4" dy="2.31">)</tspan></text>
<text x="84.40" y="724.96" font-size="10.2" text-anchor="end">F−lightgreen</text>
<text x="213.15" y="725.36" font-size="8.9" text-anchor="middle">−0.28 (0.1)</text>
<text x="405.20" y="725.36" font-size="8.9" text-anchor="middle">−0.17 (0.3)</text>
<text x="84.00" y="739.34" font-size="10.2" text-anchor="end">F−turquoise</text>
<text x="213.15" y="739.74" font-size="8.9" text-anchor="middle">−0.14 (0.4)</text>
<text x="405.20" y="739.74" font-size="8.9" text-anchor="middle">−0.1 (0.6)</text>
<text x="84.50" y="753.71" font-size="10.2" text-anchor="end">F−royalblue</text>
<text x="213.15" y="754.11" font-size="8.9" text-anchor="middle">−0.5 (0.003)</text>
<text x="405.20" y="754.11" font-size="8.9" text-anchor="middle">−0.34 (0.05)</text>
<text x="84.30" y="768.09" font-size="10.2" text-anchor="end">F−pink</text>
<text x="213.15" y="768.49" font-size="8.9" text-anchor="middle">−0.13 (0.5)</text>
<text x="405.20" y="768.49" font-size="8.9" text-anchor="middle">−0.12 (0.5)</text>
<text x="83.90" y="782.47" font-size="10.2" text-anchor="end">F−tan</text>
<text x="213.15" y="782.87" font-size="8.9" text-anchor="middle">−0.54 (0.001)</text>
<text x="405.20" y="782.87" font-size="8.9" text-anchor="middle">−0.53 (0.001)</text>
<text x="84.50" y="796.85" font-size="10.2" text-anchor="end">F−darkturquoise</text>
<text x="213.15" y="797.25" font-size="8.9" text-anchor="middle">−0.38 (0.03)</text>
<text x="405.20" y="797.25" font-size="8.9" text-anchor="middle">−0.17 (0.3)</text>
<text x="85.00" y="811.23" font-size="10.2" text-anchor="end">F−blue</text>
<text x="213.15" y="811.63" font-size="8.9" text-anchor="middle">−0.054 (0.8)</text>
<text x="405.20" y="811.63" font-size="8.9" text-anchor="middle">0.0084 (1)</text>
<text x="85.60" y="825.61" font-size="10.2" text-anchor="end">F−midnightblue</text>
<text x="213.15" y="826.01" font-size="8.9" text-anchor="middle">−0.32 (0.07)</text>
<text x="405.20" y="826.01" font-size="8.9" text-anchor="middle">−0.23 (0.2)</text>
<rect x="185.1" y="571.77" width="63.20" height="10.40" fill="none" stroke="#FFD400" stroke-width="1.2"/>
<rect x="185.1" y="614.91" width="63.20" height="10.40" fill="none" stroke="#FFD400" stroke-width="1.2"/>
<rect x="185.1" y="643.67" width="63.20" height="10.40" fill="none" stroke="#FFD400" stroke-width="1.2"/>
<rect x="376.8" y="586.15" width="63.00" height="10.40" fill="none" stroke="#FFD400" stroke-width="1.2"/>
<rect x="376.8" y="629.29" width="63.00" height="10.40" fill="none" stroke="#FFD400" stroke-width="1.2"/>
<rect x="185.1" y="686.81" width="63.10" height="10.40" fill="none" stroke="#E02430" stroke-width="1.2"/>
<rect x="185.1" y="701.19" width="63.10" height="10.40" fill="none" stroke="#E02430" stroke-width="1.2"/>
<rect x="377" y="701.19" width="63.50" height="10.40" fill="none" stroke="#E02430" stroke-width="1.2"/>
<rect x="117.4" y="483.7" width="384.1" height="345.09999999999997" fill="none" stroke="#222" stroke-width="1"/>
<text x="210.5" y="839.6" font-size="10.0" text-anchor="middle">time</text>
<text x="405.5" y="839.6" font-size="10.0" text-anchor="middle">temperature</text>
<rect x="508.3" y="504.5" width="11.199999999999989" height="303.5" fill="url(#gB)" stroke="#333" stroke-width="1"/>
<line x1="519.5" y1="504.50" x2="526.7" y2="504.50" stroke="#333" stroke-width="1"/>
<text x="530.5" y="507.31" font-size="8.5">1</text>
<line x1="519.5" y1="580.38" x2="526.7" y2="580.38" stroke="#333" stroke-width="1"/>
<text x="530.5" y="583.18" font-size="8.5">0.5</text>
<line x1="519.5" y1="656.25" x2="526.7" y2="656.25" stroke="#333" stroke-width="1"/>
<text x="530.5" y="659.05" font-size="8.5">0</text>
<line x1="519.5" y1="732.12" x2="526.7" y2="732.12" stroke="#333" stroke-width="1"/>
<text x="530.5" y="734.93" font-size="8.5">−0.5</text>
<line x1="519.5" y1="808.00" x2="526.7" y2="808.00" stroke="#333" stroke-width="1"/>
<text x="530.5" y="810.80" font-size="8.5">−1</text>
</svg>
</body></html>
